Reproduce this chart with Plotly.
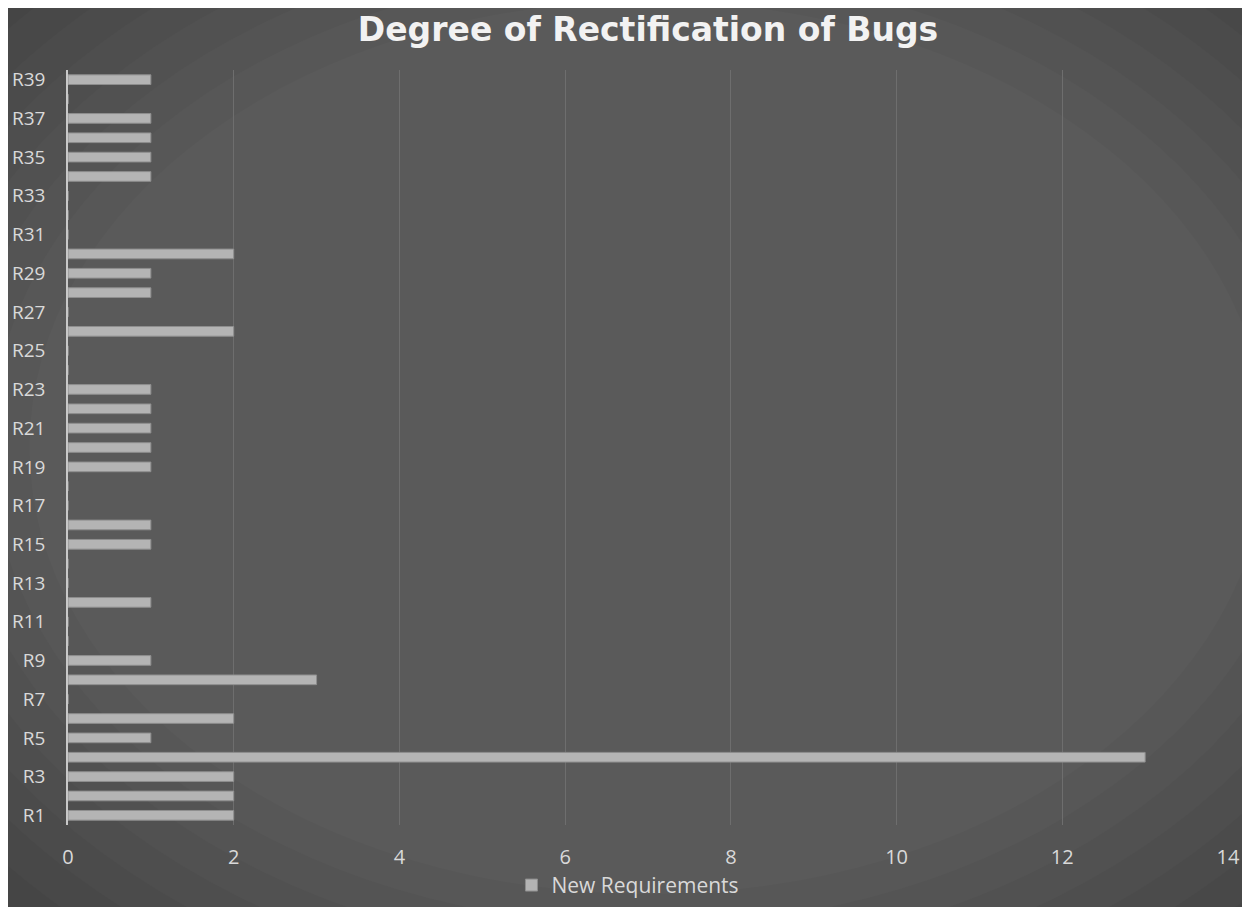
import plotly.graph_objects as go

# requirement ids and number of new requirements per id
reqs = ["R%d" % i for i in range(1, 40)]
new_reqs = [2, 2, 2, 13, 1, 2, 0, 3, 1, 0,
            0, 1, 0, 0, 1, 1, 0, 0, 1, 1,
            1, 1, 1, 0, 0, 2, 0, 1, 1, 2,
            0, 0, 0, 1, 1, 1, 1, 0, 1]
xticks = [0, 2, 4, 6, 8, 10, 12, 14]

fig = go.Figure()
fig.add_trace(go.Bar(
    y=reqs, x=new_reqs, orientation="h", name="New Requirements",
    marker=dict(color="#b4b4b4", line=dict(color="#8e8e8e", width=1)),
))

# soft lighter centre on the dark background
shapes = []
for k in range(12):
    f = k / 12
    shapes.append(dict(type="circle", xref="paper", yref="paper",
                       x0=-0.4 + 0.4 * f, x1=1.4 - 0.4 * f,
                       y0=-0.55 + 0.5 * f, y1=1.55 - 0.5 * f,
                       fillcolor="rgba(255,255,255,0.018)", line_width=0, layer="below"))

fig.update_layout(
    width=1234, height=899,
    margin=dict(l=60, r=14, t=62, b=82),
    paper_bgcolor="#363636", plot_bgcolor="rgba(0,0,0,0)",
    shapes=shapes,
    title=dict(text="<b>Degree of Rectification of Bugs</b>", x=0.5, xref="paper",
               y=0.9766, yanchor="middle",
               font=dict(family="DejaVu Sans", size=33, color="#f2f2f2")),
    font=dict(family="Open Sans", color="#d9d9d9"),
    bargap=0.5,
    showlegend=True,
    legend=dict(orientation="h", xref="container", yref="container",
                x=0.5024, xanchor="center", y=0.024, yanchor="middle",
                font=dict(size=21, color="#d9d9d9"), bgcolor="rgba(0,0,0,0)"),
)
fig.update_xaxes(range=[0, 14], tickvals=xticks, showgrid=True, gridcolor="#6e6e6e",
                 gridwidth=1, zeroline=False, showline=False, automargin=False,
                 ticklabeloverflow="allow",
                 tickfont=dict(size=20, color="#d9d9d9"), ticklabelstandoff=18)
fig.update_yaxes(categoryorder="array", categoryarray=reqs, tickvals=reqs[::2],
                 showgrid=False, showline=True, linecolor="#c8c8c8", linewidth=1.5,
                 automargin=False,
                 tickfont=dict(size=19, color="#d9d9d9"), ticklabelstandoff=17,
                 range=[-0.5, 38.5])

fig.write_html("out.html")
